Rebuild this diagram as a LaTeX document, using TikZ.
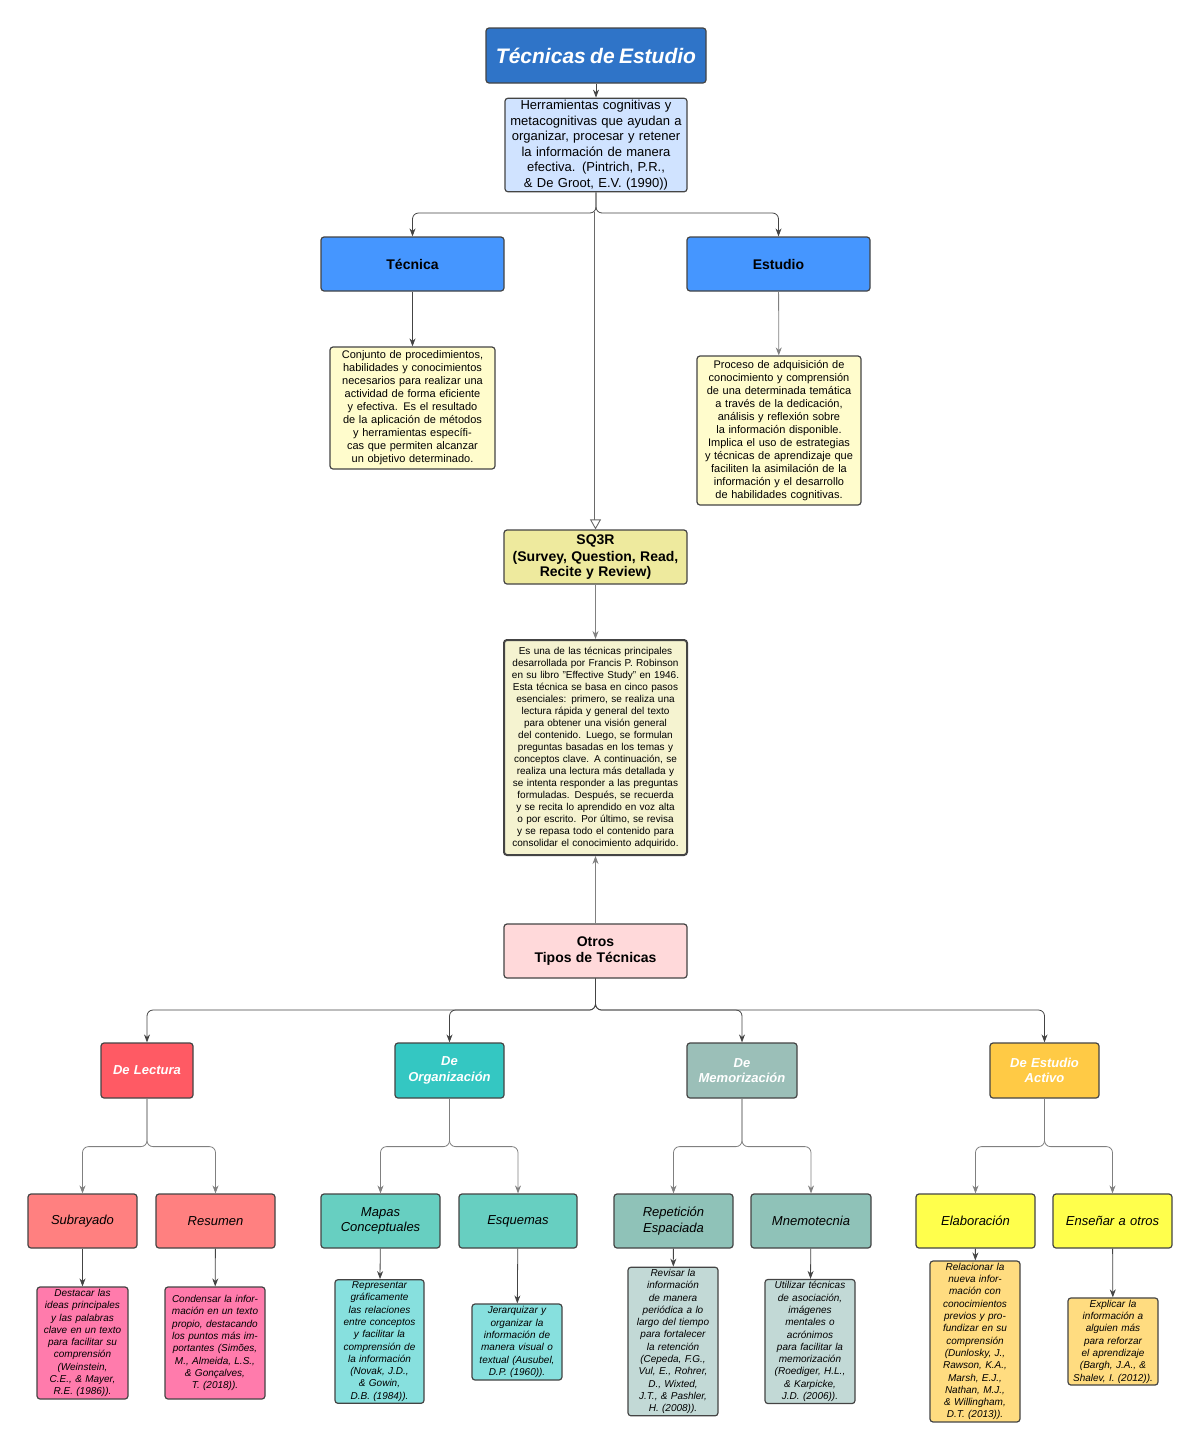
\documentclass[tikz,border=0pt]{standalone}
\usepackage{fontspec}
\setmainfont{Liberation Sans}
\usetikzlibrary{arrows.meta}
\definecolor{ttl}{HTML}{2F74C8}
\definecolor{lb}{HTML}{D0E3FF}
\definecolor{bl}{HTML}{4596FF}
\definecolor{ly}{HTML}{FFFCCC}
\definecolor{sq}{HTML}{EEEA9E}
\definecolor{sqd}{HTML}{F5F3D0}
\definecolor{pk}{HTML}{FFD9DA}
\definecolor{rd}{HTML}{FF5A64}
\definecolor{tq}{HTML}{34C7C2}
\definecolor{gg}{HTML}{9BBFB8}
\definecolor{yo}{HTML}{FFCA45}
\definecolor{sal}{HTML}{FF8080}
\definecolor{tl}{HTML}{67CFC1}
\definecolor{sg}{HTML}{8FC2B8}
\definecolor{yl}{HTML}{FFFF4C}
\definecolor{pkd}{HTML}{FF7BAC}
\definecolor{cyd}{HTML}{87E0DE}
\definecolor{gd}{HTML}{C2D9D6}
\definecolor{od}{HTML}{FFDC80}
\definecolor{ln}{HTML}{444444}
\tikzset{
 bx/.style={draw=ln,line width=1.2pt,rounded corners=3pt,align=center,inner sep=2pt,font=\fontsize{13}{15.5}\selectfont},
 tx/.style={bx,font=\fontsize{11}{13}\selectfont},
 sm/.style={bx,font=\fontsize{10}{12.3}\selectfont\itshape},
 ar/.style={draw=ln,line width=0.8pt,-{Stealth[length=8pt,width=6pt]},rounded corners=6pt},
 ln0/.style={draw=ln,line width=0.8pt,rounded corners=6pt},
}
\newcommand{\bxat}[8]{% name style x1 y1 x2 y2 fill text
 \node[#2,fill=#7,minimum width=#5-#3,minimum height=#6-#4,text width=#5-#3-8] (#1) at ({(#3+#5)/2},{(#4+#6)/2}) {#8};}
\begin{document}
\begin{tikzpicture}[x=1pt,y=-1pt]
\useasboundingbox (0,0) rectangle (1200,1443);
\bxat{t}{bx}{486}{28}{706}{83}{ttl}{\textcolor{white}{\fontsize{21}{24}\selectfont\bfseries\itshape Técnicas de Estudio}}
\bxat{d}{bx}{505}{100}{687}{190}{lb}{Herramientas cognitivas y metacognitivas que ayudan a organizar, procesar y retener la información de manera efectiva. (Pintrich, P.R., \& De Groot, E.V. (1990))}
\bxat{tec}{bx}{321}{237}{504}{291}{bl}{\bfseries\fontsize{14}{17}\selectfont Técnica}
\bxat{est}{bx}{687}{237}{870}{291}{bl}{\bfseries\fontsize{14}{17}\selectfont Estudio}
\bxat{tecd}{tx}{330}{347}{495}{469}{ly}{Conjunto de procedimientos, habilidades y conocimientos necesarios para realizar una actividad de forma eficiente y efectiva. Es el resultado de la aplicación de métodos y herramientas específicas que permiten alcanzar un objetivo determinado.}
\bxat{estd}{tx}{697}{356}{861}{505}{ly}{Proceso de adquisición de conocimiento y comprensión de una determinada temática a través de la dedicación, análisis y reflexión sobre la información disponible. Implica el uso de estrategias y técnicas de aprendizaje que faciliten la asimilación de la información y el desarrollo de habilidades cognitivas.}
\bxat{sq}{bx}{504}{530}{687}{584}{sq}{\bfseries\fontsize{14}{17}\selectfont SQ3R\\(Survey, Question, Read,\\Recite y Review)}
\node[bx,fill=sqd,line width=2pt,minimum width=183,minimum height=215,text width=170,font=\fontsize{10}{12}\selectfont] (sqd) at (595.5,747.5) {Es una de las técnicas principales desarrollada por Francis P. Robinson en su libro "Effective Study" en 1946. Esta técnica se basa en cinco pasos esenciales: primero, se realiza una lectura rápida y general del texto para obtener una visión general del contenido. Luego, se formulan preguntas basadas en los temas y conceptos clave. A continuación, se realiza una lectura más detallada y se intenta responder a las preguntas formuladas. Después, se recuerda y se recita lo aprendido en voz alta o por escrito. Por último, se revisa y se repasa todo el contenido para consolidar el conocimiento adquirido.};
\bxat{ot}{bx}{504}{924}{687}{978}{pk}{\bfseries\fontsize{14}{17}\selectfont Otros\\Tipos de Técnicas}
% level 2
\bxat{l1}{bx}{101}{1043}{193}{1098}{rd}{\color{white}\bfseries\itshape De Lectura}
\bxat{l2}{bx}{395}{1043}{504}{1098}{tq}{\color{white}\bfseries\itshape De\\Organización}
\bxat{l3}{bx}{687}{1043}{797}{1098}{gg}{\color{white}\bfseries\itshape De\\Memorización}
\bxat{l4}{bx}{990}{1043}{1099}{1098}{yo}{\color{white}\bfseries\itshape De Estudio\\Activo}
% leaves
\bxat{a1}{bx}{28}{1194}{137}{1248}{sal}{\itshape Subrayado}
\bxat{a2}{bx}{156}{1194}{275}{1248}{sal}{\itshape Resumen}
\bxat{b1}{bx}{321}{1194}{440}{1248}{tl}{\itshape Mapas\\Conceptuales}
\bxat{b2}{bx}{459}{1194}{577}{1248}{tl}{\itshape Esquemas}
\bxat{c1}{bx}{614}{1194}{733}{1248}{sg}{\itshape Repetición\\Espaciada}
\bxat{c2}{bx}{751}{1194}{871}{1248}{sg}{\itshape Mnemotecnia}
\bxat{e1}{bx}{916}{1194}{1035}{1248}{yl}{\itshape Elaboración}
\bxat{e2}{bx}{1053}{1194}{1172}{1248}{yl}{\itshape Enseñar a otros}
% leaf descriptions
\bxat{a1d}{sm}{37}{1287}{128}{1399}{pkd}{Destacar las ideas principales y las palabras clave en un texto para facilitar su comprensión (Weinstein, C.E., \& Mayer, R.E. (1986)).}
\bxat{a2d}{sm}{165}{1287}{265}{1399}{pkd}{Condensar la información en un texto propio, destacando los puntos más importantes (Simões, M., Almeida, L.S., \& Gonçalves, T. (2018)).}
\bxat{b1d}{sm}{335}{1280}{424}{1403}{cyd}{Representar gráficamente las relaciones entre conceptos y facilitar la comprensión de la información (Novak, J.D., \& Gowin, D.B. (1984)).}
\bxat{b2d}{sm}{472}{1304}{562}{1380}{cyd}{Jerarquizar y organizar la información de manera visual o textual (Ausubel, D.P. (1960)).}
\bxat{c1d}{sm}{628}{1280}{718}{1403}{gd}{Revisar la información de manera periódica a lo largo del tiempo para fortalecer la retención (Cepeda, F.G., Vul, E., Rohrer, D., Wixted, J.T., \& Pashler, H. (2008)).}
\bxat{c2d}{sm}{765}{1280}{855}{1403}{gd}{Utilizar técnicas de asociación, imágenes mentales o acrónimos para facilitar la memorización (Roediger, H.L., \& Karpicke, J.D. (2006)).}
\bxat{e1d}{sm}{930}{1268}{1020}{1415}{od}{Relacionar la nueva información con conocimientos previos y profundizar en su comprensión (Dunlosky, J., Rawson, K.A., Marsh, E.J., Nathan, M.J., \& Willingham, D.T. (2013)).}
\bxat{e2d}{sm}{1068}{1298}{1158}{1385}{od}{Explicar la información a alguien más para reforzar el aprendizaje (Bargh, J.A., \& Shalev, I. (2012)).}
% connectors
\draw[ar] (t) -- (d);
\draw[ar] (d.south) |- (500,213) -| (tec.north);
\draw[ar] (d.south) |- (700,213) -| (est.north);
\draw[draw=ln!80,double=white,double distance=2pt,line width=0.9pt,-{Triangle[open,length=10pt,width=11pt,line width=0.9pt]}] (595.5,212) -- (sq.north);
\draw[ar] (tec) -- (tecd);
\draw[ar,draw=gray] (est) -- (estd);
\draw[ar,draw=gray] (sq) -- (sqd);
\draw[ar,draw=gray] (ot) -- (sqd);
\coordinate (jo) at (595.5,1010);
\foreach \n in {l1,l2,l3,l4} \draw[ar] (ot.south) |- (jo) -| (\n.north);
\foreach \p/\a/\b in {l1/a1/a2,l2/b1/b2,l3/c1/c2,l4/e1/e2}{
 \draw[ar,draw=gray] (\p.south) -- ++(0,48) -| (\a.north);
 \draw[ar,draw=gray] (\p.south) -- ++(0,48) -| (\b.north);
 \draw[ar] (\a) -- (\a d);
 \draw[ar] (\b) -- (\b d);
}
\end{tikzpicture}
\end{document}
